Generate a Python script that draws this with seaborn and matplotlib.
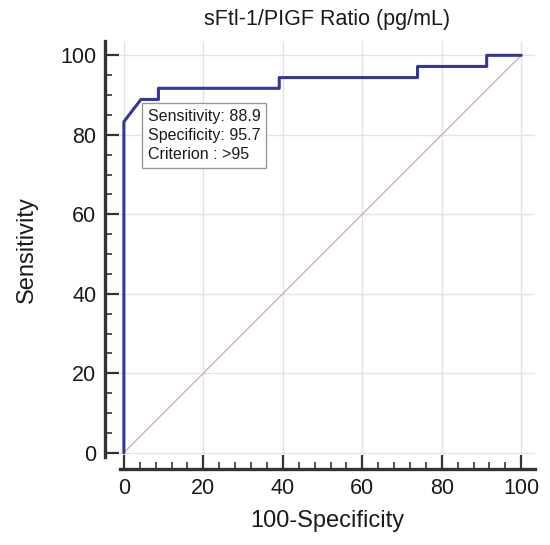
import numpy as np
import pandas as pd
import matplotlib
matplotlib.use("Agg")
import matplotlib.pyplot as plt
import seaborn as sns
from matplotlib.ticker import MultipleLocator

# ROC curve points (100-Specificity, Sensitivity)
fpr = [0, 0, 4.3, 8.7, 8.7, 39.1, 39.1, 73.9, 73.9, 91.3, 91.3, 100]
tpr = [0, 83.3, 88.9, 88.9, 91.7, 91.7, 94.4, 94.4, 97.2, 97.2, 100, 100]
diag = [0, 100]

title = "sFtl-1/PIGF Ratio (pg/mL)"
box_text = "Sensitivity: 88.9\nSpecificity: 95.7\nCriterion : >95"

roc = pd.DataFrame({"fpr": fpr, "tpr": tpr})

sns.set_style("white")
plt.rcParams["font.family"] = ["Liberation Sans", "DejaVu Sans"]
plt.rcParams["text.color"] = "#1a1a1a"
plt.rcParams["axes.labelcolor"] = "#1a1a1a"
plt.rcParams["xtick.labelcolor"] = "#1a1a1a"
plt.rcParams["ytick.labelcolor"] = "#1a1a1a"

fig = plt.figure(figsize=(5.5, 5.45), dpi=100)
ax = fig.add_axes([0.218, 0.162, 0.755, 0.762])

ax.grid(True, color="#e3e3e3", lw=1)
ax.set_axisbelow(True)

ax.plot(diag, diag, color="#c9adae", lw=0.9)
sns.lineplot(data=roc, x="fpr", y="tpr", sort=False, estimator=None,
             color="#35359a", lw=2.2, ax=ax)

ax.set_xlim(-1, 103.5)
ax.set_ylim(-1, 103.5)
ax.xaxis.set_major_locator(MultipleLocator(20))
ax.xaxis.set_minor_locator(MultipleLocator(4))
ax.yaxis.set_major_locator(MultipleLocator(20))
ax.yaxis.set_minor_locator(MultipleLocator(5))

sns.despine(ax=ax, offset={"left": 11, "bottom": 9})
for s in ["left", "bottom"]:
    ax.spines[s].set_color("#333333")
    ax.spines[s].set_linewidth(2.4)
ax.spines["left"].set_bounds(-1, 103.5)
ax.spines["bottom"].set_bounds(-1, 103.5)

ax.tick_params(which="major", direction="in", length=10, width=1.6,
               color="#333333", labelsize=15.5, pad=6)
ax.tick_params(which="minor", direction="in", length=5, width=1.2,
               color="#333333")
ax.tick_params(axis="y", which="both", left=True)
ax.tick_params(axis="x", which="both", bottom=True)

ax.set_xlabel("100-Specificity", fontsize=17, labelpad=8)
ax.set_ylabel("Sensitivity", fontsize=17, labelpad=16)
ax.set_title(title, fontsize=15.5, pad=12)

ax.text(6.0, 86.6, box_text, fontsize=11.5, va="top", ha="left",
        linespacing=1.35,
        bbox=dict(boxstyle="square,pad=0.35", fc="white", ec="#999999", lw=1))

fig.savefig("out.png", dpi=100)
